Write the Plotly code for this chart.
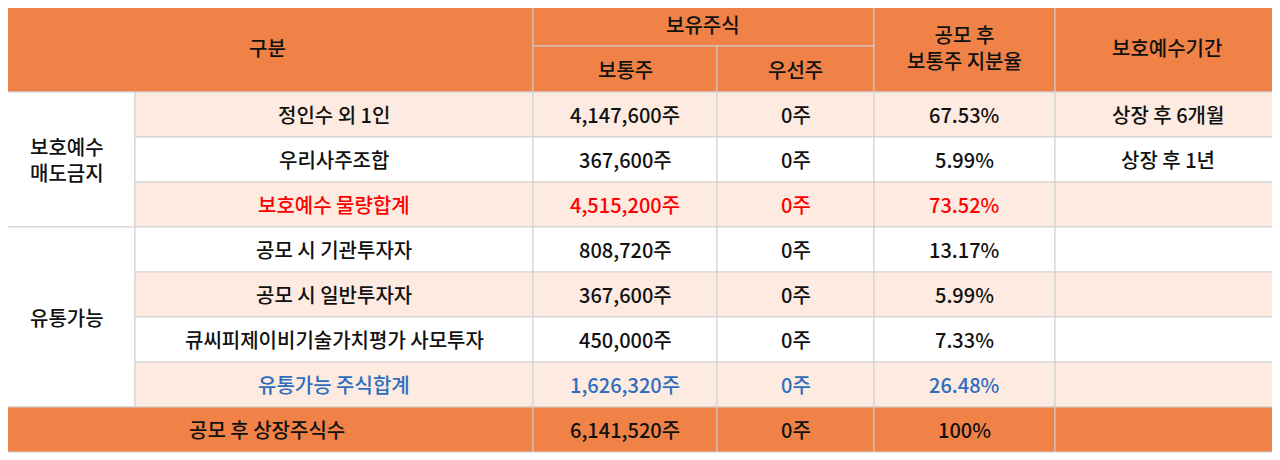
import plotly.graph_objects as go

labels = ["정인수 외 1인", "우리사주조합", "보호예수 물량합계", "공모 시 기관투자자",
          "공모 시 일반투자자", "큐씨피제이비기술가치평가 사모투자", "유통가능 주식합계"]
common = ["4,147,600주", "367,600주", "4,515,200주", "808,720주", "367,600주", "450,000주", "1,626,320주"]
pref = ["0주"] * 7
ratio = ["67.53%", "5.99%", "73.52%", "13.17%", "5.99%", "7.33%", "26.48%"]
lockup = ["상장 후 6개월", "상장 후 1년", "", "", "", "", ""]
groups = ["보호예수<br>매도금지", "유통가능"]
total = ["공모 후 상장주식수", "6,141,520주", "0주", "100%", ""]

ORANGE = "#F08247"; PINK = "#FDEBE2"; GRID = "#CFCFCF"
F = "Noto Sans CJK KR"
xs = [0, 135, 533, 717, 874, 1055, 1280]
yh = [3, 46, 92]
rows = [92 + 45 * i for i in range(9)]

fig = go.Figure()
shapes = []; ann = []
def rect(x0, y0, x1, y1, fill):
    shapes.append(dict(type="rect", xref="x", yref="y", x0=x0, y0=y0, x1=x1, y1=y1,
                       fillcolor=fill, line=dict(color=GRID, width=1), layer="below"))
def txt(x, y, s, color="#111", size=20):
    ann.append(dict(x=x, y=y, xref="x", yref="y", text=s, showarrow=False,
                    font=dict(family=F, size=size, color=color, weight=500)))

rect(0, yh[0], 533, yh[2], ORANGE); txt(267, 47, "구분")
rect(533, yh[0], 874, yh[1], ORANGE); txt(703, 24, "보유주식")
rect(533, yh[1], 717, yh[2], ORANGE); txt(625, 69, "보통주")
rect(717, yh[1], 874, yh[2], ORANGE); txt(795, 69, "우선주")
rect(874, yh[0], 1055, yh[2], ORANGE); txt(964, 47, "공모 후<br>보통주 지분율")
rect(1055, yh[0], 1280, yh[2], ORANGE); txt(1167, 47, "보호예수기간")

rect(0, rows[0], 135, rows[3], "white"); txt(67, (rows[0] + rows[3]) / 2, groups[0])
rect(0, rows[3], 135, rows[7], "white"); txt(67, (rows[3] + rows[7]) / 2, groups[1])

for i in range(7):
    fill = PINK if i % 2 == 0 else "white"
    color = "#FF0000" if i == 2 else ("#2F6DBE" if i == 6 else "#111")
    vals = [labels[i], common[i], pref[i], ratio[i], lockup[i]]
    for j in range(5):
        rect(xs[j + 1], rows[i], xs[j + 2], rows[i + 1], fill)
        if vals[j]:
            txt((xs[j + 1] + xs[j + 2]) / 2, (rows[i] + rows[i + 1]) / 2, vals[j], color)

bx = [0, 533, 717, 874, 1055, 1280]
for j in range(5):
    rect(bx[j], rows[7], bx[j + 1], rows[8], ORANGE)
    if total[j]:
        txt((bx[j] + bx[j + 1]) / 2, (rows[7] + rows[8]) / 2, total[j])

fig.update_layout(width=1280, height=460, margin=dict(l=0, r=0, t=0, b=0),
                  plot_bgcolor="white", paper_bgcolor="white", shapes=shapes, annotations=ann,
                  xaxis=dict(range=[8, 1288], visible=False, fixedrange=True),
                  yaxis=dict(range=[468, 8], visible=False, fixedrange=True),
                  showlegend=False)
fig.write_html("out.html")
